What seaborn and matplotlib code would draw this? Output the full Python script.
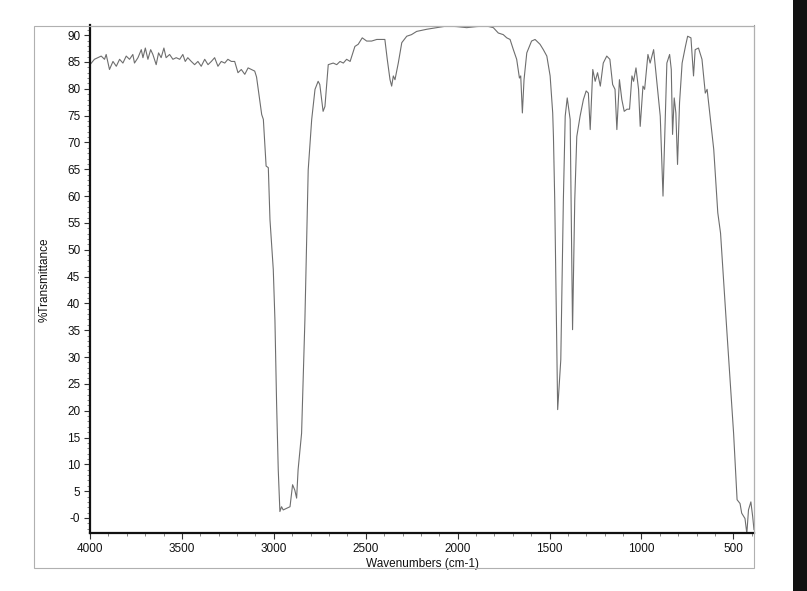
import numpy as np
import pandas as pd
import matplotlib
matplotlib.use("Agg")
import matplotlib.pyplot as plt
from matplotlib.patches import Rectangle
from matplotlib.ticker import MultipleLocator, FixedLocator
import seaborn as sns

# ---- data ----
wavenumber = [
    4000, 3976, 3957, 3939, 3921, 3912, 3894, 3875, 3857, 3839, 3821, 3803, 3785, 3767,
    3758, 3739, 3721, 3712, 3699, 3685, 3670, 3658, 3640, 3627, 3613, 3598, 3586, 3567,
    3549, 3531, 3512, 3495, 3482, 3468, 3449, 3431, 3413, 3395, 3376, 3358, 3340, 3322,
    3304, 3286, 3267, 3250, 3231, 3213, 3195, 3177, 3158, 3140, 3122, 3104, 3094,
    3066, 3057, 3042, 3030, 3021, 3003, 2994, 2985, 2976, 2967, 2958, 2949, 2930, 2912,
    2898, 2886, 2876, 2868, 2849, 2831, 2813, 2794, 2776, 2759, 2750, 2732, 2722, 2704,
    2677, 2658, 2640, 2622, 2604, 2585, 2573, 2559, 2541, 2519, 2495, 2468, 2440, 2413,
    2396, 2383, 2368, 2359, 2350, 2341, 2323, 2304, 2277, 2251, 2223, 2168, 2115, 2060,
    2006, 1951, 1897, 1842, 1806, 1779, 1752, 1733, 1715, 1697, 1679, 1664, 1657, 1648,
    1639, 1624, 1598, 1579, 1552, 1534, 1515, 1497, 1483, 1479, 1472, 1456, 1439, 1425,
    1415, 1404, 1388, 1375, 1363, 1352, 1334, 1316, 1301, 1289, 1279, 1265, 1252, 1239,
    1224, 1208, 1189, 1172, 1157, 1144, 1134, 1120, 1107, 1094, 1079, 1065, 1052, 1043,
    1030, 1016, 1007, 992, 983, 965, 953, 934, 916, 898, 883, 871, 862, 847, 838, 831,
    822, 813, 804, 793, 779, 761, 749, 731, 717, 708, 690, 671, 653, 643, 625, 607, 585,
    570, 535, 499, 480, 464, 455, 437, 427, 418, 405, 395, 388,
]
transmittance = [
    84.5, 85.5, 85.8, 86.1, 85.5, 86.4, 83.6, 85.1, 84.2, 85.5, 84.8, 86.1, 85.5, 86.4,
    84.8, 85.8, 87.3, 85.8, 87.6, 85.5, 87.3, 86.4, 84.5, 86.7, 85.8, 87.6, 85.8, 86.4,
    85.5, 85.8, 85.5, 86.4, 85.1, 85.8, 85.1, 84.5, 85.1, 84.2, 85.5, 84.5, 85.1, 85.8,
    84.2, 85.1, 84.8, 85.5, 85.1, 85.1, 83.0, 83.6, 82.7, 83.9, 83.6, 83.3, 82.2,
    75.2, 74.3, 65.6, 65.3, 55.6, 46.3, 36.9, 21.4, 9.0, 1.2, 2.1, 1.5, 1.8, 2.1,
    6.2, 5.2, 3.7, 9.0, 15.8, 36.9, 64.9, 74.3, 79.9, 81.4, 80.8, 75.8, 76.7, 84.5,
    84.8, 84.5, 85.1, 84.8, 85.5, 85.1, 86.4, 87.9, 88.3, 89.5, 88.9, 88.9, 89.2, 89.2,
    89.2, 85.5, 81.7, 80.5, 82.4, 81.7, 84.8, 88.6, 89.8, 90.1, 90.7, 91.1, 91.4, 91.7,
    91.6, 91.4, 91.6, 91.7, 91.4, 90.4, 90.1, 89.5, 89.2, 87.3, 85.5, 82.0, 82.4, 75.5,
    81.7, 86.7, 88.9, 89.2, 88.3, 87.3, 86.1, 82.4, 75.5, 71.1, 59.3, 20.2, 29.5, 59.3,
    74.9, 78.3, 74.3, 35.1, 59.3, 71.1, 74.9, 78.0, 79.6, 79.2, 72.4, 83.6, 81.4, 83.0,
    80.5, 84.8, 86.1, 85.5, 80.8, 79.9, 72.4, 81.7, 78.0, 75.8, 76.2, 76.2, 82.4, 81.4,
    83.9, 79.9, 73.0, 80.5, 79.9, 86.4, 84.8, 87.3, 81.1, 74.9, 60.0, 74.3, 84.8, 86.4, 83.6, 71.5,
    78.3, 75.5, 65.9, 77.4, 84.8, 87.9, 89.8, 89.5, 82.4, 87.3, 87.6, 85.5, 79.2, 79.9, 74.3, 68.7, 56.9,
    53.1, 34.5, 15.8, 3.4, 2.7, 0.9, -0.1, -2.9, 1.5, 3.0, 0.2, -2.2,
]
x_ticks = [4000, 3500, 3000, 2500, 2000, 1500, 1000, 500]
y_ticks = list(range(0, 95, 5))
y_tick_labels = ["-0"] + [str(v) for v in y_ticks[1:]]
x_label = "Wavenumbers (cm-1)"
y_label = "%Transmittance"

df = pd.DataFrame({"wn": wavenumber, "T": transmittance})

sns.set_theme(style="ticks")
plt.rcParams["font.family"] = ["Liberation Sans", "DejaVu Sans"]

W, H = 807, 591
fig = plt.figure(figsize=(W / 100, H / 100), dpi=100)
fig.patch.set_facecolor("white")

left, right, top, bottom = 90, 754, 25.5, 533
ax = fig.add_axes([left / W, 1 - bottom / H, (right - left) / W, (bottom - top) / H])

sns.lineplot(data=df, x="wn", y="T", sort=False, estimator=None, ax=ax,
             color="#6e6e6e", linewidth=0.8)

ax.set_xlim(4000, 388)
ax.set_ylim(-2.8, 91.8)

ax.xaxis.set_major_locator(FixedLocator(x_ticks))
ax.xaxis.set_minor_locator(MultipleLocator(100))
ax.set_yticks(y_ticks)
ax.set_yticklabels(y_tick_labels)
ax.yaxis.set_minor_locator(MultipleLocator(1))

ax.tick_params(axis="both", which="major", direction="out", length=4, width=0.8,
               color="#333333", labelsize=8.5, labelcolor="#111111", pad=3)
ax.tick_params(axis="both", which="minor", direction="out", length=2, width=0.5,
               color="#555555")

ax.set_xlabel(x_label, fontsize=8.5, color="#111111", labelpad=2)
ax.set_ylabel(y_label, fontsize=8.5, color="#111111", labelpad=12)

for s in ["left", "bottom"]:
    ax.spines[s].set_color("#111111")
    ax.spines[s].set_linewidth(1.6)
for s in ["top", "right"]:
    ax.spines[s].set_color("#9a9a9a")
    ax.spines[s].set_linewidth(0.8)

# outer frame of the printed chart
fig.patches.append(Rectangle((34 / W, 1 - 568 / H), (754 - 34) / W, (568 - 25.5) / H,
                             transform=fig.transFigure, fill=False,
                             edgecolor="#b0b0b0", linewidth=0.8))
# dark scan edge at the right
fig.patches.append(Rectangle((793 / W, 0), (W - 793) / W, 1,
                             transform=fig.transFigure, facecolor="#111111",
                             edgecolor="none"))

fig.savefig("out.png", dpi=100)
